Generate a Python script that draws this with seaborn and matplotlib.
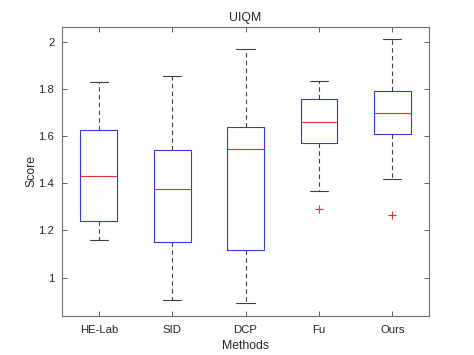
import numpy as np
import pandas as pd
import matplotlib
matplotlib.use('Agg')
import matplotlib.pyplot as plt
import seaborn as sns

# values (five-number summary per method)
methods = ['HE-Lab', 'SID', 'DCP', 'Fu', 'Ours']
lower_whisker = [1.160, 0.906, 0.893, 1.367, 1.418]
q1 = [1.240, 1.151, 1.117, 1.571, 1.609]
median = [1.432, 1.377, 1.544, 1.660, 1.697]
q3 = [1.625, 1.541, 1.637, 1.757, 1.790]
upper_whisker = [1.829, 1.856, 1.968, 1.833, 2.010]
outlier_methods = ['Fu', 'Ours']
outlier_values = [1.292, 1.267]

rows = []
for i, m in enumerate(methods):
    for v in (lower_whisker[i], q1[i], median[i], q3[i], upper_whisker[i]):
        rows.append({'Methods': m, 'Score': v})
df = pd.DataFrame(rows)
out_df = pd.DataFrame({'Methods': outlier_methods, 'Score': outlier_values})

sns.set_style('white')
plt.rcParams['font.family'] = ['Liberation Sans', 'DejaVu Sans']

fig = plt.figure(figsize=(4.74, 3.55), dpi=100)
ax = fig.add_axes([0.131, 0.109, 0.774, 0.816])

sns.boxplot(data=df, x='Methods', y='Score', order=methods, width=0.5,
            fill=False, whis=1.5, showfliers=False, ax=ax,
            boxprops=dict(color='#3838d8', linewidth=0.8),
            medianprops=dict(color='#e03030', linewidth=0.8),
            whiskerprops=dict(color='#404040', linestyle=(0, (4, 3)), linewidth=0.8),
            capprops=dict(color='#404040', linewidth=0.8))
sns.stripplot(data=out_df, x='Methods', y='Score', order=methods, jitter=False,
              marker='+', color='#e03030', size=6, linewidth=0.8, ax=ax)

ax.set_xlim(-0.5, 4.5)
ax.set_ylim(0.836, 2.064)
ax.set_yticks([1, 1.2, 1.4, 1.6, 1.8, 2])
ax.set_yticklabels(['1', '1.2', '1.4', '1.6', '1.8', '2'])

tc = '#262626'
ax.set_title('UIQM', fontsize=8.8, color=tc, pad=4)
ax.set_xlabel('Methods', fontsize=8.8, color=tc, labelpad=4)
ax.set_ylabel('Score', fontsize=8.8, color=tc, labelpad=1)
ax.tick_params(direction='in', length=3.5, width=0.7, color='#606060',
               labelsize=8.2, labelcolor=tc, top=True, right=True,
               bottom=True, left=True)
ax.tick_params(axis='x', pad=6)
ax.tick_params(axis='y', pad=5.5)
for s in ax.spines.values():
    s.set_visible(True)
    s.set_color('#707070')
    s.set_linewidth(0.8)

fig.savefig('out.png', dpi=100)
